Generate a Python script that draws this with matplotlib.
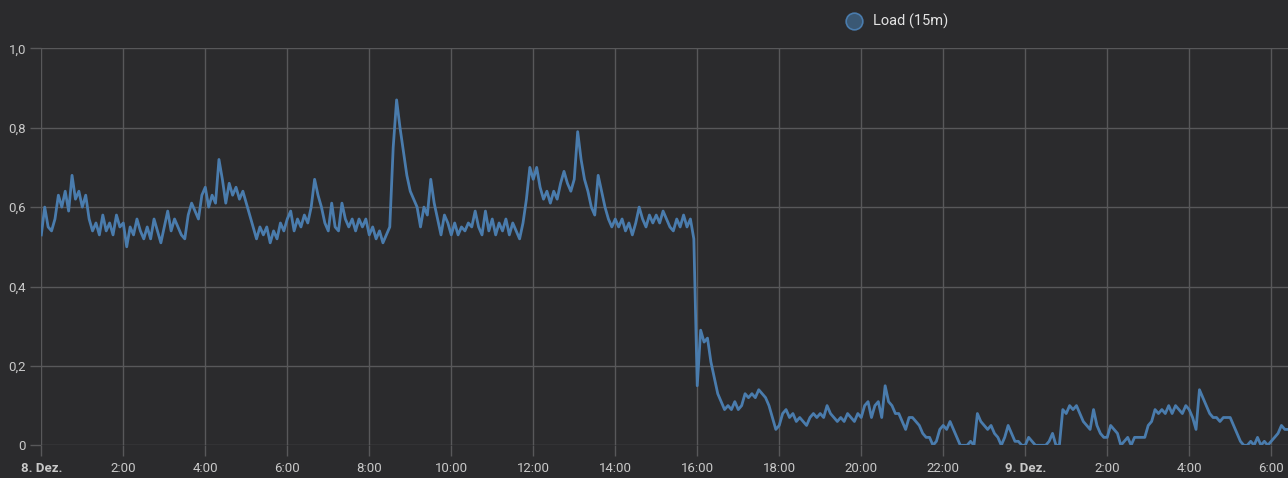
import matplotlib
matplotlib.use("Agg")
import matplotlib.pyplot as plt
from matplotlib.lines import Line2D
import pandas as pd

# 15-minute load average, one reading every 5 minutes starting 8 Dec 00:00
load = [
    0.53, 0.60, 0.55, 0.54, 0.57, 0.63, 0.60, 0.64, 0.59, 0.68, 0.62, 0.64,  # 0h
    0.60, 0.63, 0.57, 0.54, 0.56, 0.53, 0.58, 0.54, 0.56, 0.53, 0.58, 0.55,  # 1h
    0.56, 0.50, 0.55, 0.53, 0.57, 0.54, 0.52, 0.55, 0.52, 0.57, 0.54, 0.51,  # 2h
    0.55, 0.59, 0.54, 0.57, 0.55, 0.53, 0.52, 0.58, 0.61, 0.59, 0.57, 0.63,  # 3h
    0.65, 0.60, 0.63, 0.61, 0.72, 0.67, 0.61, 0.66, 0.63, 0.65, 0.62, 0.64,  # 4h
    0.61, 0.58, 0.55, 0.52, 0.55, 0.53, 0.55, 0.51, 0.54, 0.52, 0.56, 0.54,  # 5h
    0.57, 0.59, 0.54, 0.57, 0.55, 0.58, 0.56, 0.60, 0.67, 0.63, 0.60, 0.56,  # 6h
    0.54, 0.61, 0.55, 0.54, 0.61, 0.57, 0.55, 0.57, 0.54, 0.57, 0.55, 0.57,  # 7h
    0.53, 0.55, 0.52, 0.54, 0.51, 0.53, 0.55, 0.75, 0.87, 0.80, 0.74, 0.68,  # 8h
    0.64, 0.62, 0.60, 0.55, 0.60, 0.58, 0.67, 0.61, 0.57, 0.53, 0.58, 0.56,  # 9h
    0.53, 0.56, 0.53, 0.55, 0.54, 0.56, 0.55, 0.59, 0.55, 0.53, 0.59, 0.54,  # 10h
    0.57, 0.53, 0.56, 0.54, 0.57, 0.53, 0.56, 0.54, 0.52, 0.56, 0.62, 0.70,  # 11h
    0.67, 0.70, 0.65, 0.62, 0.64, 0.61, 0.64, 0.62, 0.66, 0.69, 0.66, 0.64,  # 12h
    0.67, 0.79, 0.72, 0.67, 0.64, 0.60, 0.58, 0.68, 0.64, 0.60, 0.57, 0.55,  # 13h
    0.57, 0.55, 0.57, 0.54, 0.56, 0.53, 0.56, 0.60, 0.57, 0.55, 0.58, 0.56,  # 14h
    0.58, 0.56, 0.59, 0.57, 0.55, 0.54, 0.57, 0.55, 0.58, 0.55, 0.57, 0.52,  # 15h
    0.15, 0.29, 0.26, 0.27, 0.21, 0.17, 0.13, 0.11, 0.09, 0.10, 0.09, 0.11,  # 16h
    0.09, 0.10, 0.13, 0.12, 0.13, 0.12, 0.14, 0.13, 0.12, 0.10, 0.07, 0.04,  # 17h
    0.05, 0.08, 0.09, 0.07, 0.08, 0.06, 0.07, 0.06, 0.05, 0.07, 0.08, 0.07,  # 18h
    0.08, 0.07, 0.10, 0.08, 0.07, 0.06, 0.07, 0.06, 0.08, 0.07, 0.06, 0.08,  # 19h
    0.07, 0.10, 0.11, 0.07, 0.10, 0.11, 0.07, 0.15, 0.11, 0.10, 0.08, 0.08,  # 20h
    0.06, 0.04, 0.07, 0.07, 0.06, 0.05, 0.03, 0.02, 0.02, 0.00, 0.01, 0.04,  # 21h
    0.05, 0.04, 0.06, 0.04, 0.02, 0.00, 0.00, 0.00, 0.01, 0.00, 0.08, 0.06,  # 22h
    0.05, 0.04, 0.05, 0.03, 0.02, 0.00, 0.02, 0.05, 0.03, 0.01, 0.01, 0.00,  # 23h
    0.00, 0.02, 0.01, 0.00, 0.00, 0.00, 0.00, 0.01, 0.03, 0.00, 0.00, 0.09,  # 0h
    0.08, 0.10, 0.09, 0.10, 0.08, 0.06, 0.05, 0.04, 0.09, 0.05, 0.03, 0.02,  # 1h
    0.02, 0.05, 0.04, 0.03, 0.00, 0.01, 0.02, 0.00, 0.02, 0.02, 0.02, 0.02,  # 2h
    0.05, 0.06, 0.09, 0.08, 0.09, 0.08, 0.10, 0.08, 0.10, 0.09, 0.08, 0.10,  # 3h
    0.09, 0.07, 0.04, 0.14, 0.12, 0.10, 0.08, 0.07, 0.07, 0.06, 0.07, 0.07,  # 4h
    0.07, 0.05, 0.03, 0.01, 0.00, 0.00, 0.01, 0.00, 0.02, 0.00, 0.01, 0.00,  # 5h
    0.01, 0.02, 0.03, 0.05, 0.04, 0.04,                                      # 6h
]
times = pd.date_range("2023-12-08 00:00", periods=len(load), freq="5min")

y_ticks = [0, 0.2, 0.4, 0.6, 0.8, 1.0]
y_labels = ["0", "0,2", "0,4", "0,6", "0,8", "1,0"]
x_ticks = pd.date_range("2023-12-08 00:00", "2023-12-09 06:00", freq="2h")
x_labels = ["8. Dez.", "2:00", "4:00", "6:00", "8:00", "10:00", "12:00", "14:00",
            "16:00", "18:00", "20:00", "22:00", "9. Dez.", "2:00", "4:00", "6:00"]

bg = "#2b2b2d"
grid_c = "#58585a"
line_c = "#4a7cad"
text_c = "#c9c9c9"

plt.rcParams["font.family"] = ["Roboto", "DejaVu Sans"]

fig = plt.figure(figsize=(12.88, 4.78), dpi=100, facecolor=bg)
ax = fig.add_axes([41.3 / 1288, 32.7 / 478, 1246.7 / 1288, 397 / 478])
ax.set_facecolor(bg)

ax.plot(times, load, color=line_c, lw=2.0)

ax.set_ylim(0, 1.0)
ax.set_xlim(pd.Timestamp("2023-12-08 00:00"),
            pd.Timestamp("2023-12-08 00:00") + pd.Timedelta(hours=30.41))

ax.set_yticks(y_ticks, y_labels)
ax.set_xticks(x_ticks, x_labels)
for lbl in ax.get_xticklabels():
    if "Dez" in lbl.get_text():
        lbl.set_fontweight("bold")

ax.grid(True, color=grid_c, lw=1)
ax.set_axisbelow(True)
for s in ax.spines.values():
    s.set_visible(False)
ax.tick_params(colors=grid_c, length=8, width=1, labelcolor=text_c, labelsize=9.5)
ax.tick_params(axis="x", pad=4)
ax.tick_params(axis="y", pad=3)

handle = Line2D([], [], ls="none", marker="o", markersize=12,
                markerfacecolor="#3a5874", markeredgecolor=line_c, markeredgewidth=1.2)
fig.legend([handle], ["Load (15m)"], loc="center", bbox_to_anchor=(0.694, 0.955),
           frameon=False, handletextpad=0.3, labelcolor="#e3e3e3", fontsize=10.5)

fig.savefig("out.png", dpi=100, facecolor=bg)
